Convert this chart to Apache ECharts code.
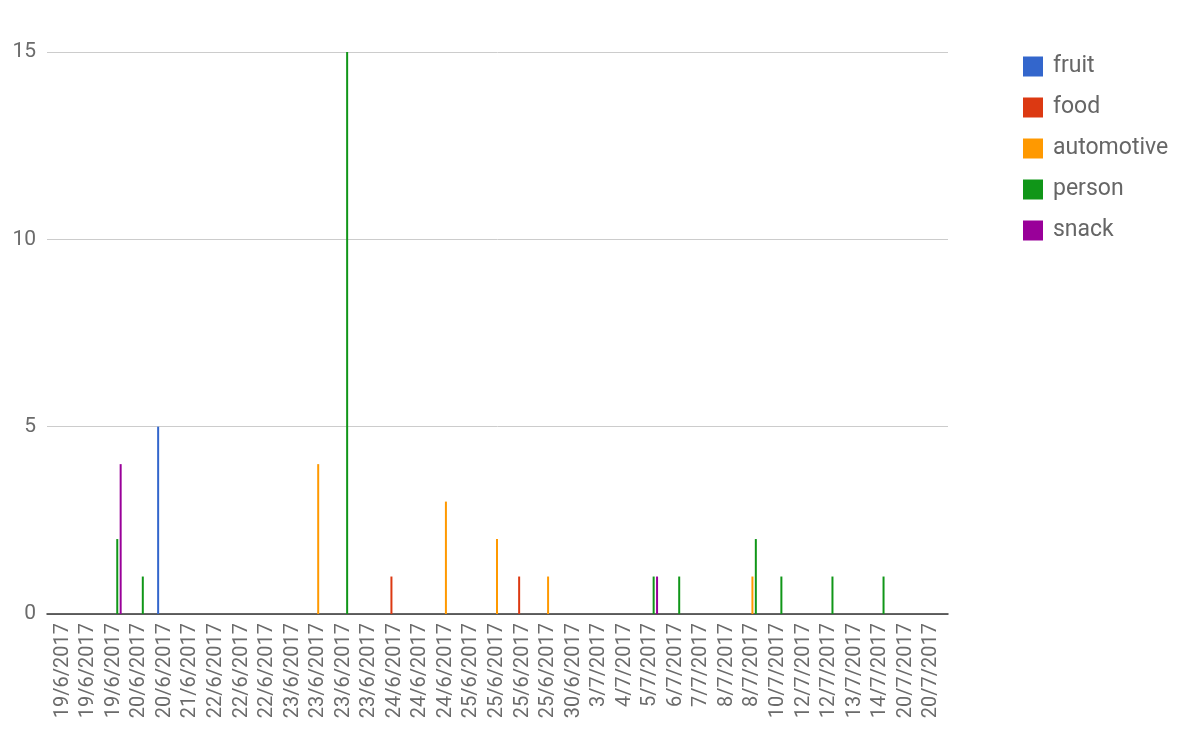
<!DOCTYPE html>
<html>
<head>
<meta charset="utf-8">
<script src="https://cdn.jsdelivr.net/npm/echarts@6/dist/echarts.min.js"></script>
<style>
html,body{margin:0;padding:0;background:#fff;}
#chart{width:1200px;height:747px;}
</style>
</head>
<body>
<div id="chart"></div>
<script>
const categories = [
  '19/6/2017','19/6/2017','19/6/2017','20/6/2017','20/6/2017','21/6/2017',
  '22/6/2017','22/6/2017','22/6/2017','23/6/2017','23/6/2017','23/6/2017','23/6/2017',
  '24/6/2017','24/6/2017','24/6/2017','25/6/2017','25/6/2017','25/6/2017','25/6/2017',
  '30/6/2017','3/7/2017','4/7/2017','5/7/2017','6/7/2017','7/7/2017','8/7/2017','8/7/2017',
  '10/7/2017','12/7/2017','12/7/2017','13/7/2017','14/7/2017','20/7/2017','20/7/2017'
];
const seriesNames = ['fruit','food','automotive','person','snack'];
const fruit      = [0,0,0,0,5,0, 0,0,0,0,0,0,0, 0,0,0,0,0,0,0, 0,0,0,0,0,0,0,0, 0,0,0,0,0,0,0];
const food       = [0,0,0,0,0,0, 0,0,0,0,0,0,0, 1,0,0,0,0,1,0, 0,0,0,0,0,0,0,0, 0,0,0,0,0,0,0];
const automotive = [0,0,0,0,0,0, 0,0,0,0,4,0,0, 0,0,3,0,2,0,1, 0,0,0,0,0,0,0,1, 0,0,0,0,0,0,0];
const person     = [0,0,2,1,0,0, 0,0,0,0,0,15,0, 0,0,0,0,0,0,0, 0,0,0,1,1,0,0,2, 1,0,1,0,1,0,0];
const snack      = [0,0,4,0,0,0, 0,0,0,0,0,0,0, 0,0,0,0,0,0,0, 0,0,0,1,0,0,0,0, 0,0,0,0,0,0,0];
const yTicks = [0,5,10,15];
const colors = ['#3366cc','#dc3912','#ff9900','#109618','#990099'];

const dataSets = [fruit, food, automotive, person, snack];
const FONT = 'Roboto, Arial, sans-serif';
const chart = echarts.init(document.getElementById('chart'));
chart.setOption({
  animation: false,
  color: colors,
  textStyle: {fontFamily: FONT},
  grid: [
    {left: 47, right: 252, top: 52, bottom: 133},
    {left: 50, right: 256, top: 52, bottom: 133}
  ],
  legend: {
    orient: 'vertical',
    left: 1018, top: 50,
    itemWidth: 20, itemHeight: 20, itemGap: 18,
    icon: 'rect',
    data: seriesNames,
    textStyle: {fontSize: 23, color: '#666', fontFamily: FONT, padding: [0,0,0,5]}
  },
  xAxis: [
    {
      gridIndex: 0, type: 'value', min: 0, max: 1,
      axisTick: {show: false}, axisLabel: {show: false}, splitLine: {show: false},
      axisLine: {show: true, onZero: false, lineStyle: {color: '#333', width: 1.5}}
    },
    {
      gridIndex: 1, type: 'category',
      data: categories,
      axisTick: {show: false},
      axisLine: {show: false},
      axisLabel: {interval: 0, rotate: 90, fontSize: 20, color: '#6b6b6b', margin: 9}
    }
  ],
  yAxis: [
    {
      gridIndex: 0, type: 'value',
      min: yTicks[0], max: yTicks[yTicks.length-1], interval: 5,
      axisLine: {show: false},
      axisTick: {show: false},
      splitLine: {lineStyle: {color: '#cccccc', width: 1}},
      axisLabel: {fontSize: 21, color: '#6b6b6b', margin: 11}
    },
    {
      gridIndex: 1, type: 'value',
      min: yTicks[0], max: yTicks[yTicks.length-1], interval: 5,
      show: false, splitLine: {show: false}
    }
  ],
  series: seriesNames.map((n, i) => ({
    name: n, type: 'bar', data: dataSets[i],
    xAxisIndex: 1, yAxisIndex: 1,
    barWidth: 2, barGap: '70%'
  }))
});
</script>
</body>
</html>
